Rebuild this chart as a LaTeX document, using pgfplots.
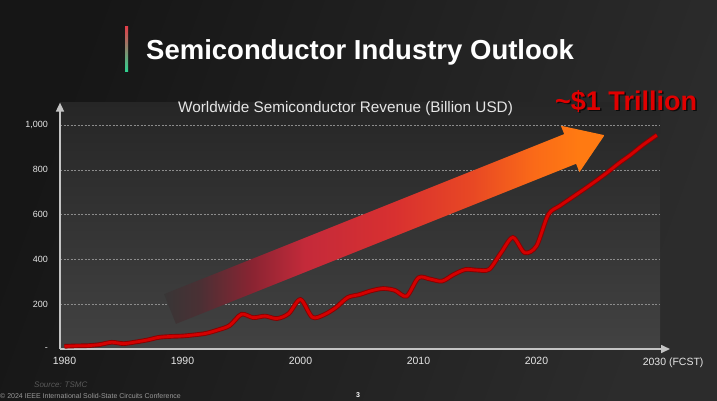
\documentclass[border=0pt]{standalone}
\usepackage{fontspec}
\setmainfont{Liberation Sans}
\usepackage{pgfplots}
\pgfplotsset{compat=1.18}
\usetikzlibrary{arrows.meta}

\definecolor{bgdark}{HTML}{161616}
\definecolor{bglight}{HTML}{2C2C2C}
\definecolor{plottop}{HTML}{262626}
\definecolor{plotbot}{HTML}{424242}
\definecolor{lineedge}{HTML}{8A0000}
\definecolor{linered}{HTML}{D40000}
\definecolor{trillion}{HTML}{E00000}
\definecolor{axisgray}{HTML}{C4C4C4}
\definecolor{gridgray}{HTML}{8C8C8C}
\definecolor{ticktext}{HTML}{E6E6E6}
\definecolor{arr0}{HTML}{383636}
\definecolor{arr1}{HTML}{4A3034}
\definecolor{arr2}{HTML}{8A2432}
\definecolor{arr3}{HTML}{C42A3A}
\definecolor{arr4}{HTML}{D83030}
\definecolor{arr5}{HTML}{E84824}
\definecolor{arr6}{HTML}{FA6A18}
\definecolor{arr7}{HTML}{FF7A12}
\definecolor{bartop}{HTML}{E0404A}
\definecolor{barmid}{HTML}{7A7AEE}
\definecolor{barbot}{HTML}{30D090}

% path box maps to 25bp..75bp
\pgfdeclarehorizontalshading{arrowshade}{100bp}{color(0bp)=(arr0); color(25bp)=(arr0);
  color(29bp)=(arr1); color(35bp)=(arr2); color(41bp)=(arr3); color(51bp)=(arr4);
  color(60bp)=(arr5); color(67bp)=(arr6); color(72bp)=(arr7); color(100bp)=(arr7)}

\begin{document}
\begin{tikzpicture}[x=1pt,y=1pt]
\useasboundingbox (0,0) rectangle (717,400);
\shade[left color=bgdark, right color=bglight, shading angle=70] (0,0) rectangle (717,400);

% title
\shade[top color=bartop, middle color=barmid, bottom color=barbot] (125,329) rectangle (128,373);
\node[anchor=base west, inner sep=0pt, text=white, font=\fontsize{27.5}{32}\selectfont\bfseries] at (146,341) {Semiconductor Industry Outlook};

\begin{axis}[
  at={(60pt,51pt)}, anchor=south west,
  scale only axis, width=600pt, height=246.4pt,
  xmin=1979.62, xmax=2030.47,
  ymin=0, ymax=1100,
  axis lines=left,
  axis line style={draw=axisgray, line width=1.6pt},
  x axis line style={-{Triangle[length=9pt,width=8pt]}, shorten >=-10pt},
  y axis line style={-{Triangle[length=9pt,width=8pt]}},
  axis background/.style={shade, top color=plottop, bottom color=plotbot},
  ymajorgrids,
  major grid style={draw=gridgray, line width=0.6pt, dash pattern=on 2pt off 1.5pt},
  major tick length=0pt,
  xtick={1980,1990,2000,2010,2020,2030},
  xticklabels={1980,1990,2000,2010,2020,{2030\rlap{ (FCST)}}},
  ytick={0,200,400,600,800,1000},
  yticklabels={-,200,400,600,800,{1,000}},
  xticklabel style={font=\fontsize{10.5}{12}\selectfont, text=ticktext, yshift=-5pt},
  yticklabel style={font=\fontsize{9}{11}\selectfont, text=ticktext, xshift=-8.5pt},
  clip=false,
]
\pgfplotstableread{
year value
1980 12
1981 14
1982 15
1983 20
1984 30
1985 24
1986 31
1987 40
1988 52
1989 56
1990 58
1991 63
1992 70
1993 85
1994 105
1995 155
1996 140
1997 147
1998 136
1999 158
2000 221
2001 142
2002 153
2003 185
2004 230
2005 243
2006 260
2007 270
2008 262
2009 236
2010 318
2011 312
2012 303
2013 333
2014 355
2015 352
2016 356
2017 430
2018 498
2019 430
2020 460
2021 600
2022 640
2023 676
2024 712
2025 749
2026 788
2027 830
2028 868
2029 910
2030.2 955
}\revenue
\addplot[lineedge, line width=4.6pt, smooth, tension=0.5] table[x=year, y=value] {\revenue};
\addplot[linered, line width=2.8pt, smooth, tension=0.5] table[x=year, y=value] {\revenue};
\end{axis}

\node[anchor=base west, inner sep=0pt, text=ticktext, font=\fontsize{15.3}{18}\selectfont] at (178,288) {Worldwide Semiconductor Revenue (Billion USD)};

% growth arrow
\begin{scope}[shift={(170,91)}, rotate=21.8]
\shade[shading=arrowshade] (0,-16) -- (431,-16) -- (431,-25) -- (468,0) -- (431,25) -- (431,16) -- (0,16) -- cycle;
\end{scope}

\node[anchor=base west, inner sep=0pt, text=black, opacity=0.7, font=\fontsize{27}{30}\selectfont\bfseries] at (556.5,288.5) {\char"7E\$1 Trillion};
\node[anchor=base west, inner sep=0pt, text=trillion, font=\fontsize{27}{30}\selectfont\bfseries] at (555,290) {\char"7E\$1 Trillion};

% footer
\node[anchor=base west, inner sep=0pt, text=gray!70!black, font=\fontsize{8}{9}\selectfont\itshape] at (34,13) {Source: TSMC};
\node[anchor=base west, inner sep=0pt, text=gray!80, font=\fontsize{7}{8}\selectfont] at (0,1.5) {\textcopyright{} 2024 IEEE International Solid-State Circuits Conference};
\node[anchor=base, inner sep=0pt, text=white, font=\fontsize{7}{8}\selectfont\bfseries] at (358,3) {3};
\end{tikzpicture}
\end{document}
